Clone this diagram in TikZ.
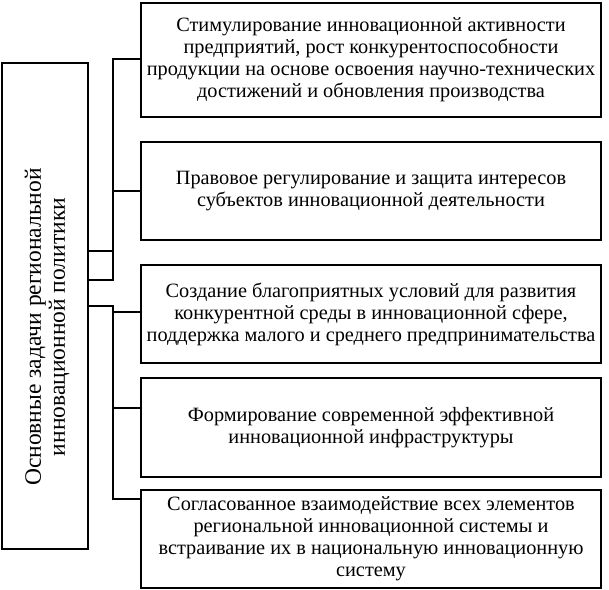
\documentclass[tikz,border=0pt]{standalone}
\usepackage{fontspec}
\setmainfont{Liberation Serif}
\begin{document}
\begin{tikzpicture}[x=1pt,y=-1pt,
  bx/.style={draw,line width=1.2pt,align=center,inner sep=0pt},
  ln/.style={line width=1.2pt},
  tx/.style={align=center,font=\fontsize{20.3}{22}\selectfont}]
\useasboundingbox (0,0) rectangle (609,589);
\node[bx,minimum width=86,minimum height=486] (L) at (45,306) {};
\node[align=center,font=\fontsize{23.5}{24}\selectfont,rotate=90] (Lt) at (47,327) {Основные задачи региональной\\инновационной политики};
\node[bx,minimum width=460,minimum height=114] (b1) at (371,60) {};
\node[tx] at (b1.center) {Стимулирование инновационной активности\\предприятий, рост конкурентоспособности\\продукции на основе освоения научно-технических\\достижений и обновления производства};
\node[bx,minimum width=460,minimum height=98] (b2) at (371,191) {};
\node[tx] at (b2.center) {Правовое регулирование и защита интересов\\субъектов инновационной деятельности};
\node[bx,minimum width=460,minimum height=98] (b3) at (371,314) {};
\node[tx] at (b3.center) {Создание благоприятных условий для развития\\конкурентной среды в инновационной сфере,\\поддержка малого и среднего предпринимательства};
\node[bx,minimum width=460,minimum height=99] (b4) at (371,427.5) {};
\node[tx] at (b4.center) {Формирование современной эффективной\\инновационной инфраструктуры};
\node[bx,minimum width=460,minimum height=98] (b5) at (371,539) {};
\node[tx] at (b5.center) {Согласованное взаимодействие всех элементов\\региональной инновационной системы и\\встраивание их в национальную инновационную\\систему};
\coordinate (t1) at (113,59);
\coordinate (t2) at (113,280);
\coordinate (t3) at (113,306);
\coordinate (t4) at (113,499);
\draw[ln] (L.east |- 0,251) -- (113,251);
\draw[ln] (L.east |- t2) -- (t2) -- (t1) -- (b1.west |- t1);
\draw[ln] (113,191) -- (b2.west |- 0,191);
\draw[ln] (L.east |- t3) -- (t3) -- (t4) -- (b5.west |- t4);
\draw[ln] (113,312) -- (b3.west |- 0,312);
\draw[ln] (113,408) -- (b4.west |- 0,408);
\end{tikzpicture}
\end{document}
